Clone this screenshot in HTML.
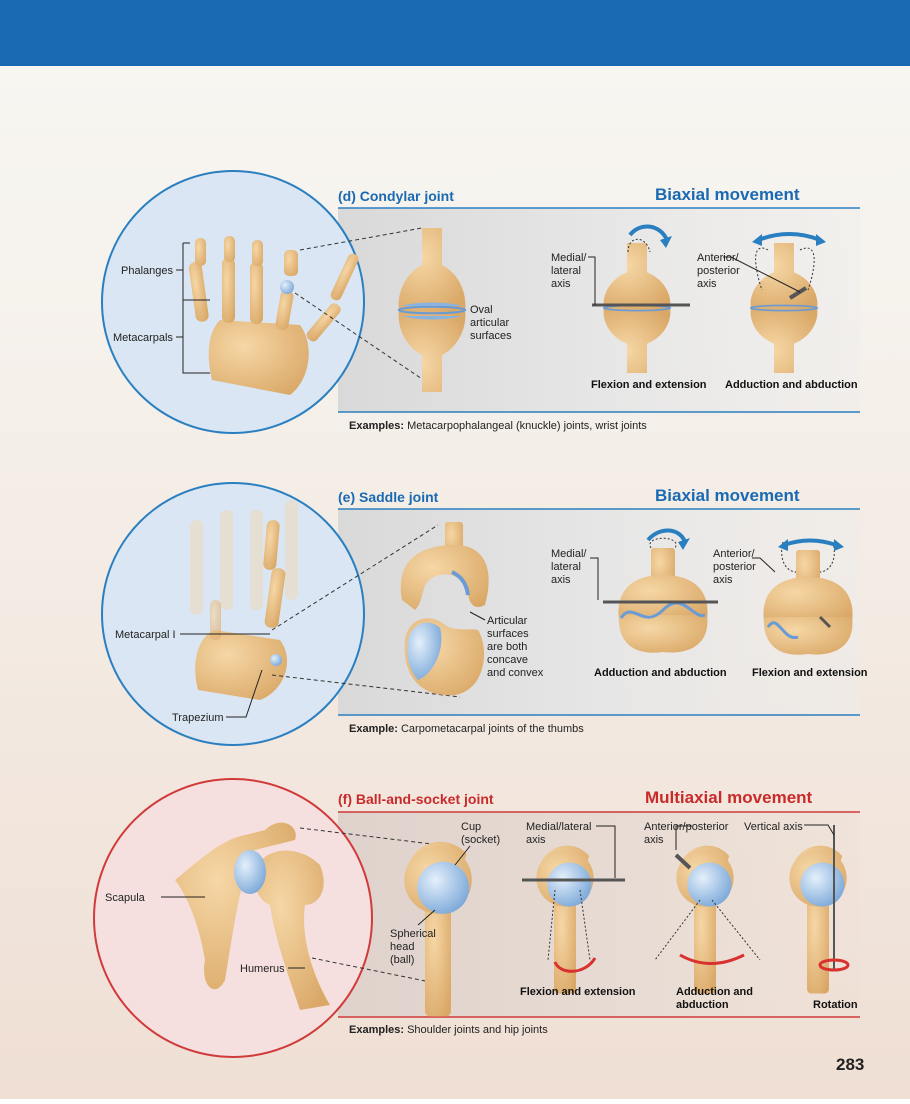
<!DOCTYPE html>
<html><head><meta charset="utf-8"><style>
html,body{margin:0;padding:0}
body{width:910px;height:1099px;overflow:hidden;font-family:"Liberation Sans",Arial,sans-serif}
svg text{font-family:"Liberation Sans",Arial,sans-serif}
</style></head><body>
<svg width="910" height="1099" viewBox="0 0 910 1099" xmlns="http://www.w3.org/2000/svg">
<defs>
<linearGradient id="bg" x1="0" y1="0" x2="0" y2="1">
<stop offset="0" stop-color="#f8f7f3"/><stop offset="0.35" stop-color="#f5f0ea"/><stop offset="1" stop-color="#efdfd4"/>
</linearGradient>
<linearGradient id="panel" x1="0" y1="0" x2="1" y2="0">
<stop offset="0" stop-color="#d9d9d9"/><stop offset="0.5" stop-color="#e6e6e6"/><stop offset="1" stop-color="#ececec" stop-opacity="0.4"/>
</linearGradient>
<linearGradient id="panelr" x1="0" y1="0" x2="1" y2="0">
<stop offset="0" stop-color="#dfd2cc"/><stop offset="0.6" stop-color="#e8dcd4"/><stop offset="1" stop-color="#eee0d6" stop-opacity="0.4"/>
</linearGradient>
<radialGradient id="bone" cx="0.35" cy="0.35" r="0.8">
<stop offset="0" stop-color="#f6d7a6"/><stop offset="1" stop-color="#d9a766"/>
</radialGradient>
<radialGradient id="blue" cx="0.35" cy="0.35" r="0.8">
<stop offset="0" stop-color="#e4f0fb"/><stop offset="1" stop-color="#6f9fd4"/>
</radialGradient>
<g id="cup">
<path d="M-10,-100 L10,-100 L10,-55 C30,-42 35,-15 33,0 L-33,0 C-35,-15 -30,-42 -10,-55 Z" fill="url(#bone)"/>
</g>
<g id="condyle">
<use href="#cup"/>
<use href="#cup" transform="scale(1,-1)"/>
<ellipse cx="0" cy="0" rx="33" ry="4" fill="none" stroke="#6a9bd6" stroke-width="2.5"/>
</g>
<g id="ballj">
<path d="M-24,-2 A26,26 0 0 1 22,-20 L18,-8 A20,20 0 0 0 -14,4 Z" fill="url(#bone)"/>
<rect x="-10" y="10" width="20" height="95" rx="4" fill="url(#bone)"/>
<circle cx="0" cy="0" r="26" fill="url(#bone)"/>
<circle cx="4" cy="6" r="20" fill="url(#blue)"/>
</g>
</defs>
<rect width="910" height="1099" fill="url(#bg)"/>
<rect width="910" height="66" fill="#1a6ab3"/>

<!-- ===== D ===== -->
<rect x="338" y="208" width="522" height="204" fill="url(#panel)"/>
<line x1="338" y1="208" x2="860" y2="208" stroke="#2a7fc0" stroke-width="1.5"/>
<line x1="338" y1="412" x2="860" y2="412" stroke="#2a7fc0" stroke-width="1.5"/>
<text x="338" y="201" font-size="14" font-weight="bold" fill="#1a6ab3">(d) Condylar joint</text>
<text x="655" y="200" font-size="17" font-weight="bold" fill="#1a6ab3">Biaxial movement</text>
<circle cx="233" cy="302" r="131" fill="#dae6f3" stroke="#2a7fc0" stroke-width="2"/>
<g fill="url(#bone)">
<path d="M212,380 C205,350 210,330 220,320 L300,325 C315,345 310,380 290,395 Z"/>
<rect x="192" y="262" width="13" height="60" rx="6" transform="rotate(-8 198 290)"/>
<rect x="222" y="258" width="13" height="65" rx="6"/>
<rect x="250" y="262" width="13" height="62" rx="6"/>
<rect x="278" y="290" width="13" height="40" rx="6" transform="rotate(10 284 310)"/>
<rect x="195" y="238" width="11" height="28" rx="5"/><rect x="224" y="236" width="11" height="26" rx="5"/>
<rect x="252" y="240" width="11" height="26" rx="5"/><rect x="284" y="250" width="14" height="26" rx="5"/>
<rect x="340" y="252" width="11" height="50" rx="5" transform="rotate(25 345 275)"/>
<rect x="318" y="300" width="12" height="45" rx="5" transform="rotate(40 324 322)"/>
</g>
<circle cx="287" cy="287" r="7" fill="url(#blue)"/>
<g stroke="#222" fill="none" stroke-width="1">
<path d="M183,243 H190 M183,243 V373 H210 M183,300 H210 M176,270 H183 M176,337 H183"/>
</g>
<g stroke="#333" stroke-dasharray="4,3" fill="none"><line x1="300" y1="250" x2="422" y2="228"/><line x1="295" y1="293" x2="425" y2="381"/></g>
<text x="121" y="274" font-size="11" fill="#222">Phalanges</text>
<text x="113" y="341" font-size="11" fill="#222">Metacarpals</text>
<use href="#condyle" transform="translate(432,310) scale(1,0.82)"/>
<path d="M402,306 A33,6 0 0 1 462,306" fill="#8ab3e0"/><path d="M402,316 A33,6 0 0 0 462,316" fill="#8ab3e0"/>
<text x="470" y="313" font-size="11" fill="#222">Oval</text><text x="470" y="326" font-size="11" fill="#222">articular</text><text x="470" y="339" font-size="11" fill="#222">surfaces</text>
<use href="#condyle" transform="translate(637,308) scale(1,0.65)"/>
<line x1="592" y1="305" x2="690" y2="305" stroke="#555" stroke-width="3"/>
<path d="M628,252 C628,235 646,235 650,252" fill="none" stroke="#333" stroke-dasharray="2,2"/>
<path d="M630,235 C640,222 660,224 667,240" fill="none" stroke="#2a7fc0" stroke-width="4"/><polygon points="660,240 672,236 666,248" fill="#2a7fc0"/>
<use href="#condyle" transform="translate(784,308) scale(1,0.65)"/>
<path d="M768,250 C750,240 755,270 762,290 M800,250 C820,240 815,270 808,290" fill="none" stroke="#333" stroke-dasharray="2,2"/>
<line x1="790" y1="298" x2="806" y2="288" stroke="#555" stroke-width="4"/>
<path d="M758,240 Q790,228 820,240" fill="none" stroke="#2a7fc0" stroke-width="4"/>
<polygon points="752,242 762,234 762,246" fill="#2a7fc0"/><polygon points="826,242 816,234 816,246" fill="#2a7fc0"/>
<g stroke="#222" fill="none" stroke-width="1"><path d="M588,257 H595 V305"/><path d="M723,257 H731 L800,292"/></g>
<g font-size="11" fill="#222"><text x="551" y="261">Medial/</text><text x="551" y="274">lateral</text><text x="551" y="287">axis</text>
<text x="697" y="261">Anterior/</text><text x="697" y="274">posterior</text><text x="697" y="287">axis</text></g>
<text x="591" y="388" font-size="11" font-weight="bold" fill="#111">Flexion and extension</text>
<text x="725" y="388" font-size="11" font-weight="bold" fill="#111">Adduction and abduction</text>
<text x="349" y="429" font-size="11" fill="#222"><tspan font-weight="bold">Examples:</tspan> Metacarpophalangeal (knuckle) joints, wrist joints</text>

<!-- ===== E ===== -->
<rect x="338" y="509" width="522" height="206" fill="url(#panel)"/>
<line x1="338" y1="509" x2="860" y2="509" stroke="#2a7fc0" stroke-width="1.5"/>
<line x1="338" y1="715" x2="860" y2="715" stroke="#2a7fc0" stroke-width="1.5"/>
<text x="338" y="502" font-size="14" font-weight="bold" fill="#1a6ab3">(e) Saddle joint</text>
<text x="655" y="501" font-size="17" font-weight="bold" fill="#1a6ab3">Biaxial movement</text>
<circle cx="233" cy="614" r="131" fill="#dae6f3" stroke="#2a7fc0" stroke-width="2"/>
<g fill="#eadcc6" opacity="0.7">
<rect x="190" y="520" width="13" height="95" rx="6"/><rect x="220" y="510" width="13" height="100" rx="6"/><rect x="250" y="510" width="13" height="100" rx="6"/><rect x="285" y="500" width="13" height="100" rx="6"/>
</g>
<g fill="url(#bone)">
<path d="M198,690 C190,660 200,635 215,630 L280,640 C295,660 285,690 260,700 Z"/>
<rect x="265" y="520" width="13" height="50" rx="6" transform="rotate(5 271 545)"/>
<rect x="268" y="568" width="14" height="60" rx="6" transform="rotate(8 275 598)"/>
<rect x="210" y="600" width="11" height="40" rx="5" opacity="0.6"/>
</g>
<circle cx="276" cy="660" r="6" fill="url(#blue)"/>
<g stroke="#333" stroke-dasharray="4,3" fill="none"><line x1="272" y1="630" x2="438" y2="525"/><line x1="272" y1="675" x2="460" y2="697"/></g>
<g stroke="#222" fill="none"><path d="M180,634 H270"/><path d="M226,717 H246 L262,670"/></g>
<text x="115" y="638" font-size="11" fill="#222">Metacarpal I</text>
<text x="172" y="721" font-size="11" fill="#222">Trapezium</text>
<rect x="445" y="522" width="18" height="35" rx="3" fill="url(#bone)"/>
<path d="M402,600 C395,560 420,545 455,545 C485,545 495,570 485,605 C475,610 470,605 468,595 C465,575 445,570 432,578 C420,585 425,600 415,610 Z" fill="url(#bone)"/>
<path d="M468,595 C466,580 458,575 452,572" fill="none" stroke="#6a9bd6" stroke-width="4"/>
<path d="M405,640 C408,618 430,612 445,625 C455,632 470,628 478,630 C490,650 485,690 455,695 C420,698 402,675 405,640 Z" fill="url(#bone)"/>
<path d="M408,640 C412,622 430,618 440,628 C446,650 432,675 418,680 C408,668 406,655 408,640 Z" fill="url(#blue)"/>
<g font-size="11" fill="#222"><text x="487" y="624">Articular</text><text x="487" y="637">surfaces</text><text x="487" y="650">are both</text><text x="487" y="663">concave</text><text x="487" y="676">and convex</text></g>
<line x1="470" y1="612" x2="485" y2="620" stroke="#222"/>
<g transform="translate(663,610)">
<rect x="-12" y="-62" width="24" height="40" rx="3" fill="url(#bone)"/>
<path d="M-44,10 C-48,-20 -30,-35 0,-35 C30,-35 48,-20 44,10 Z" fill="url(#bone)"/>
<path d="M-44,5 C-46,40 -20,45 0,42 C25,45 48,35 44,5 Z" fill="url(#bone)"/>
<path d="M-42,8 C-30,-10 -20,20 0,0 C20,-20 30,10 42,5" fill="none" stroke="#6a9bd6" stroke-width="3"/>
<line x1="-60" y1="-8" x2="55" y2="-8" stroke="#555" stroke-width="3"/>
<path d="M-12,-62 C-20,-75 20,-75 12,-62" fill="none" stroke="#333" stroke-dasharray="2,2"/>
</g>
<path d="M648,540 C660,526 680,528 685,542" fill="none" stroke="#2a7fc0" stroke-width="4"/><polygon points="678,542 690,538 683,550" fill="#2a7fc0"/>
<g transform="translate(808,612)">
<rect x="-12" y="-62" width="24" height="40" rx="3" fill="url(#bone)"/>
<path d="M-44,10 C-48,-20 -30,-35 0,-35 C30,-35 48,-20 44,10 Z" fill="url(#bone)"/>
<path d="M-44,5 C-46,40 -20,45 0,42 C25,45 48,35 44,5 Z" fill="url(#bone)"/>
<path d="M-40,15 C-30,0 -25,30 -10,25" fill="none" stroke="#6a9bd6" stroke-width="3"/>
<line x1="12" y1="5" x2="22" y2="15" stroke="#555" stroke-width="3"/>
<path d="M-25,-70 C-30,-50 -20,-40 -12,-40 M25,-70 C30,-50 20,-40 12,-40" fill="none" stroke="#333" stroke-dasharray="2,2"/>
</g>
<path d="M784,545 Q810,536 836,545" fill="none" stroke="#2a7fc0" stroke-width="4"/>
<polygon points="778,547 788,539 788,551" fill="#2a7fc0"/><polygon points="844,547 834,539 834,551" fill="#2a7fc0"/>
<g stroke="#222" fill="none"><path d="M590,558 H598 V600"/><path d="M752,558 H760 L775,572"/></g>
<g font-size="11" fill="#222"><text x="551" y="557">Medial/</text><text x="551" y="570">lateral</text><text x="551" y="583">axis</text>
<text x="713" y="557">Anterior/</text><text x="713" y="570">posterior</text><text x="713" y="583">axis</text></g>
<text x="594" y="676" font-size="11" font-weight="bold" fill="#111">Adduction and abduction</text>
<text x="752" y="676" font-size="11" font-weight="bold" fill="#111">Flexion and extension</text>
<text x="349" y="732" font-size="11" fill="#222"><tspan font-weight="bold">Example:</tspan> Carpometacarpal joints of the thumbs</text>

<!-- ===== F ===== -->
<rect x="338" y="812" width="522" height="205" fill="url(#panelr)"/>
<line x1="338" y1="812" x2="860" y2="812" stroke="#d03a3a" stroke-width="1.5"/>
<line x1="338" y1="1017" x2="860" y2="1017" stroke="#d03a3a" stroke-width="1.5"/>
<text x="338" y="804" font-size="14" font-weight="bold" fill="#c92a2a">(f) Ball-and-socket joint</text>
<text x="645" y="803" font-size="17" font-weight="bold" fill="#c92a2a">Multiaxial movement</text>
<circle cx="233" cy="918" r="139" fill="#f6e0df" stroke="#d03a3a" stroke-width="2"/>
<g fill="url(#bone)">
<path d="M175,880 C200,860 220,840 245,835 L265,830 C280,815 300,825 295,840 L255,850 C240,880 235,920 225,980 C215,1000 200,985 205,960 C200,930 190,900 175,880 Z"/>
<path d="M255,870 C265,845 300,845 320,865 C330,890 318,905 305,905 C300,940 315,980 330,1005 L300,1010 C290,980 275,940 270,905 C258,900 252,885 255,870 Z"/>
</g>
<ellipse cx="250" cy="872" rx="16" ry="22" fill="url(#blue)"/>
<g stroke="#333" stroke-dasharray="4,3" fill="none"><line x1="300" y1="828" x2="440" y2="845"/><line x1="312" y1="958" x2="445" y2="985"/></g>
<g stroke="#222" fill="none"><path d="M161,897 H205"/><path d="M288,968 H305"/></g>
<text x="105" y="901" font-size="11" fill="#222">Scapula</text>
<text x="240" y="972" font-size="11" fill="#222">Humerus</text>
<use href="#ballj" transform="translate(438,880) scale(1.3)"/>
<g font-size="11" fill="#222"><text x="461" y="830">Cup</text><text x="461" y="843">(socket)</text>
<text x="390" y="937">Spherical</text><text x="390" y="950">head</text><text x="390" y="963">(ball)</text></g>
<g stroke="#222" fill="none"><path d="M470,846 L455,865"/><path d="M418,925 L435,910"/></g>
<use href="#ballj" transform="translate(565,878) scale(1.1)"/>
<line x1="522" y1="880" x2="625" y2="880" stroke="#555" stroke-width="3"/>
<path d="M555,890 L548,960 M580,890 L590,960" fill="none" stroke="#333" stroke-dasharray="2,2"/>
<path d="M555,962 C560,975 585,975 595,958" fill="none" stroke="#d93030" stroke-width="3"/>
<use href="#ballj" transform="translate(705,878) scale(1.1)"/>
<line x1="676" y1="855" x2="690" y2="868" stroke="#555" stroke-width="4"/>
<path d="M700,900 L655,960 M712,900 L760,960" fill="none" stroke="#333" stroke-dasharray="2,2"/>
<path d="M680,955 Q710,972 744,955" fill="none" stroke="#d93030" stroke-width="3"/>
<use href="#ballj" transform="translate(818,878) scale(1.1)"/>
<line x1="834" y1="825" x2="834" y2="970" stroke="#555" stroke-width="2"/>
<ellipse cx="834" cy="965" rx="14" ry="5" fill="none" stroke="#d93030" stroke-width="3"/>
<g stroke="#222" fill="none"><path d="M596,826 L615,826 V878"/><path d="M692,826 H676 V850"/><path d="M804,825 H828 L834,835"/></g>
<g font-size="11" fill="#222"><text x="526" y="830">Medial/lateral</text><text x="526" y="843">axis</text>
<text x="644" y="830">Anterior/posterior</text><text x="644" y="843">axis</text><text x="744" y="830">Vertical axis</text></g>
<text x="520" y="995" font-size="11" font-weight="bold" fill="#111">Flexion and extension</text>
<text x="676" y="995" font-size="11" font-weight="bold" fill="#111">Adduction and</text>
<text x="676" y="1008" font-size="11" font-weight="bold" fill="#111">abduction</text>
<text x="813" y="1008" font-size="11" font-weight="bold" fill="#111">Rotation</text>
<text x="349" y="1033" font-size="11" fill="#222"><tspan font-weight="bold">Examples:</tspan> Shoulder joints and hip joints</text>
<text x="836" y="1070" font-size="17" font-weight="bold" fill="#222">283</text>
</svg>
</body></html>
